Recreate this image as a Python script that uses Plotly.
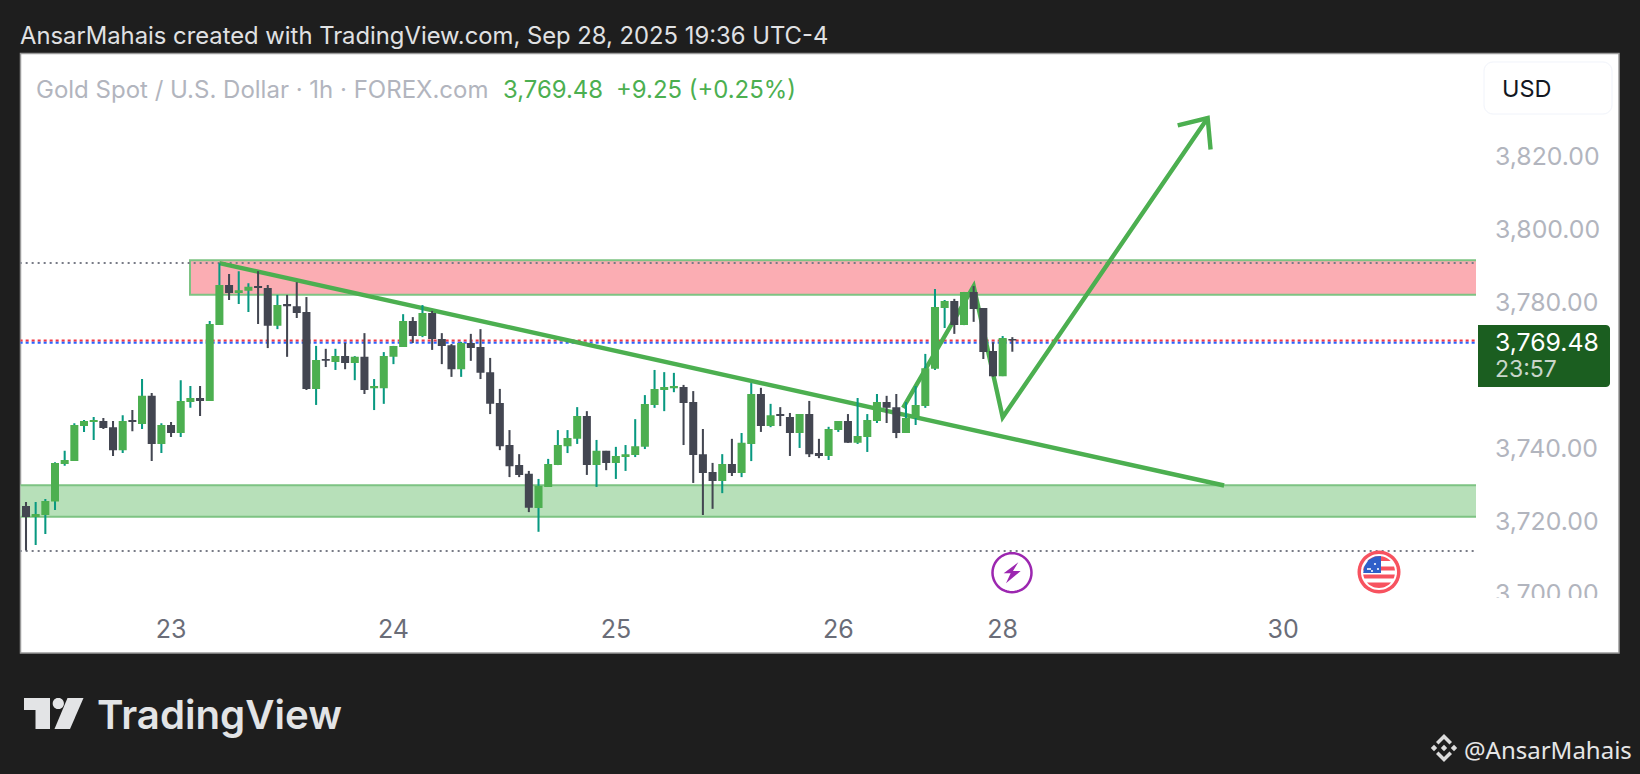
import math
import plotly.graph_objects as go

W, H = 1640, 774
FIG_H = 784

# ---------- data ----------
open_ = [3724.1,3721.05,3721.6,3725.3,3735.6,3736.4,3746.0,3747.1,3747.4,3745.7,3739.4,3747.7,3746.6,3754.3,3741.1,3746.3,3744.1,3752.6,3753.7,3752.9,
         3773.7,3784.7,3782.5,3783.1,3784.4,3783.9,3773.5,3779.5,3778.9,3777.3,3756.2,3764.4,3763.6,3765.2,3763.3,3765.0,3756.4,3756.4,3765.0,3767.7,
         3774.8,3770.7,3777.0,3769.9,3768.2,3761.6,3768.8,3767.7,3760.8,3752.3,3740.8,3735.3,3732.9,3723.5,3729.3,3735.3,3740.5,3742.5,3748.8,3735.3,
         3739.2,3735.9,3737.5,3738.1,3740.3,3751.8,3755.9,3756.4,3756.7,3752.6,3738.3,3733.4,3730.9,3735.6,3733.1,3741.1,3754.8,3746.0,3749.3,3748.5,
         3744.1,3749.3,3738.6,3737.8,3744.9,3747.4,3741.4,3743.0,3747.4,3752.6,3751.2,3744.1,3748.2,3751.5,3761.7,3778.4,3780.3,3773.7,3782.8,3778.4,
         3766.6,3759.7,3769.9]
high = [3725.2,3725.2,3726.0,3736.1,3739.2,3746.8,3747.7,3748.5,3748.2,3747.4,3749.0,3750.4,3758.9,3755.1,3746.8,3747.1,3758.6,3757.0,3757.0,3774.8,
        3790.7,3787.7,3788.5,3785.2,3788.5,3784.7,3782.0,3782.0,3785.5,3781.4,3768.0,3767.2,3767.2,3768.8,3765.2,3771.5,3758.9,3766.3,3768.0,3776.7,
        3775.9,3779.2,3777.6,3771.5,3768.5,3769.1,3771.3,3772.6,3764.7,3756.2,3744.9,3738.3,3733.7,3731.5,3737.0,3744.9,3744.9,3751.2,3750.1,3742.2,
        3739.2,3740.3,3740.8,3747.9,3754.5,3761.4,3760.8,3760.6,3757.3,3755.6,3745.2,3735.9,3738.3,3742.5,3744.1,3757.8,3756.5,3752.1,3751.2,3749.6,
        3749.3,3752.9,3742.5,3745.8,3747.4,3749.3,3753.7,3749.3,3754.8,3754.3,3754.8,3752.6,3757.0,3765.8,3783.6,3780.6,3780.9,3782.8,3784.4,3778.4,
        3769.0,3770.7,3770.4]
low = [3711.9,3713.4,3716.4,3723.0,3735.1,3736.4,3744.4,3742.2,3745.2,3737.8,3738.6,3744.6,3745.2,3736.4,3738.6,3743.0,3743.0,3751.0,3748.8,3752.9,
       3773.7,3780.6,3779.5,3777.3,3774.0,3767.4,3772.6,3765.0,3775.65,3755.9,3751.8,3762.2,3761.4,3761.6,3758.6,3754.8,3750.4,3752.1,3763.0,3767.7,
       3768.8,3770.4,3766.9,3763.0,3759.5,3759.5,3763.9,3758.9,3749.3,3739.4,3732.0,3732.0,3722.4,3717.0,3729.3,3735.3,3738.6,3741.1,3732.6,3729.3,
       3733.9,3731.5,3733.7,3737.5,3739.7,3751.0,3750.1,3755.3,3740.8,3730.4,3721.6,3723.3,3727.6,3732.3,3732.0,3736.4,3744.4,3745.7,3746.0,3737.8,
       3740.0,3737.5,3737.2,3736.7,3744.4,3741.4,3741.1,3738.9,3746.85,3746.85,3742.7,3744.1,3746.3,3751.0,3761.4,3772.9,3771.3,3773.7,3774.6,3764.4,
       3759.55,3759.7,3766.4]
close = [3721.05,3721.9,3725.45,3735.9,3736.7,3746.3,3747.4,3747.7,3745.5,3739.4,3747.4,3747.1,3754.3,3741.1,3746.3,3744.1,3752.9,3753.7,3752.9,3774.0,
         3784.7,3782.5,3783.3,3784.2,3783.9,3773.5,3779.2,3778.9,3777.0,3756.2,3764.1,3763.9,3765.2,3763.3,3765.0,3755.9,3757.0,3765.2,3768.0,3774.8,
         3770.7,3777.0,3769.9,3768.0,3761.6,3768.8,3767.4,3760.6,3752.1,3740.5,3735.0,3732.6,3723.6,3729.6,3735.6,3740.8,3742.7,3748.8,3735.3,3739.2,
         3735.9,3737.8,3738.3,3740.5,3752.05,3756.2,3756.7,3757.0,3752.3,3738.1,3733.1,3730.9,3735.6,3733.1,3741.4,3754.8,3746.0,3749.0,3748.8,3744.1,
         3749.3,3738.3,3737.8,3745.2,3747.4,3741.4,3743.3,3747.7,3752.6,3751.0,3744.1,3748.2,3751.8,3761.9,3778.7,3780.3,3773.7,3782.8,3778.1,3766.3,
         3759.7,3770.2,3769.48]
bar_index = list(range(len(close)))

price_ticks = [3700, 3720, 3740, 3780, 3800, 3820]
day_pos = [15, 38, 61, 84, 101, 130]
day_labels = ["23", "24", "25", "26", "28", "30"]

resistance_zone = (16.96, 3782.0, 3791.5)
support_zone = (-5, 3721.1, 3729.8)
trend_x = [20, 123.9]
trend_y = [3790.7, 3729.7]
wave_x = [90.7, 98, 101, 122.2]
wave_y = [3751.0, 3784.4, 3748.4, 3830.5]
head_x = [119.1, 122.2, 122.5]
head_y = [3828.5, 3830.5, 3821.9]
high_line = 3790.74
low_line = 3711.7
last_price = 3769.48
blue_line = 3768.9

# ---------- colours ----------
BG = "#1e1e1e"
UP = "#4caf50"
UPW = "#089981"
DN = "#434651"
GRN = "#4caf50"
EDGE = "#7dc383"
TXT = "#b2b5be"
FONT = "Inter"


def px(x):
    return x / W


def py(y):
    return 1 - y / H


def ppath(pts, close_=True):
    s = "M " + " L ".join(f"{px(a):.5f},{py(b):.5f}" for a, b in pts)
    return s + (" Z" if close_ else "")


def round_rect(x0, y0, x1, y1, rl, rr):
    pts = []
    for cx, cy, r, a0 in [(x1 - rr, y0 + rr, rr, -90), (x1 - rr, y1 - rr, rr, 0),
                          (x0 + rl, y1 - rl, rl, 90), (x0 + rl, y0 + rl, rl, 180)]:
        for k in range(7):
            t = math.radians(a0 + 15 * k)
            pts.append((cx + r * math.cos(t), cy + r * math.sin(t)))
    return ppath(pts)


def disc(cx, cy, r, n=48):
    return ppath([(cx + r * math.cos(2 * math.pi * k / n), cy + r * math.sin(2 * math.pi * k / n)) for k in range(n)])


def chord_band(cx, cy, r, y0, y1):
    """Horizontal band of a disc, between two pixel offsets."""
    pts = []
    n = 10
    for k in range(n + 1):
        yy = y0 + (y1 - y0) * k / n
        pts.append((cx + math.sqrt(max(r * r - yy * yy, 0)), cy + yy))
    for k in range(n + 1):
        yy = y1 - (y1 - y0) * k / n
        pts.append((cx - math.sqrt(max(r * r - yy * yy, 0)), cy + yy))
    return ppath(pts)


def paper_shape(path, fill, line=None, lw=0, layer="above"):
    return dict(type="path", xref="paper", yref="paper", path=path, fillcolor=fill,
                line=dict(color=line or fill, width=lw), layer=layer)


shapes = []
# panel
shapes.append(dict(type="rect", xref="paper", yref="paper", x0=px(20.5), x1=px(1619), y0=py(653), y1=py(53.5),
                   fillcolor="#ffffff", line=dict(color="#9a9a9a", width=1.5), layer="below"))
# zones
for (x0, lo, hi), fc in [(resistance_zone, "#fbadb3"), (support_zone, "#b7e0b9")]:
    shapes.append(dict(type="rect", xref="x", yref="y", x0=x0, x1=200, y0=lo, y1=hi, fillcolor=fc,
                       line=dict(color=EDGE, width=2), layer="below"))
# dotted price lines
for val, col, dash, lw in [(high_line, "#787b86", "2px,4px", 2), (low_line, "#787b86", "2px,4px", 2),
                           (blue_line, "#2962ff", "3px,3px", 2.2), (last_price, "#f23645", "3px,3px", 2.2)]:
    shapes.append(dict(type="line", xref="x", yref="y", x0=-5, x1=200, y0=val, y1=val,
                       line=dict(color=col, width=lw, dash=dash), layer="below"))
# drawings
for xs, ys in [(trend_x, trend_y), (wave_x, wave_y), (head_x, head_y)]:
    shapes.append(dict(type="path", xref="x", yref="y",
                       path="M " + " L ".join(f"{a},{b}" for a, b in zip(xs, ys)),
                       line=dict(color=GRN, width=4.4), layer="below"))

# clip of the lowest price label
shapes.append(dict(type="rect", xref="paper", yref="paper", x0=px(1480), x1=px(1617), y0=py(652), y1=py(598),
                   fillcolor="#ffffff", line=dict(width=0), layer="above"))
# USD box
shapes.append(paper_shape(round_rect(1484, 62, 1612, 114, 9, 9), "#ffffff", "#f0f3fa", 1))
# last price tag
shapes.append(paper_shape(round_rect(1478, 325, 1610, 387, 0, 4), "#1b5e20"))

# lightning icon
BC, BY, BR = 1012, 572.7, 19.5
shapes.append(paper_shape(disc(BC, BY, BR), "#ffffff", "#9c27b0", 2.5))
bolt = [(295, 157), (251, 190), (272, 190), (258, 220), (302, 183), (279, 183)]
shapes.append(paper_shape(ppath([(920 + a / 3, 510 + b / 3) for a, b in bolt]), "#9c27b0"))

# US flag icon
FC, FY = 1379, 572
shapes.append(paper_shape(disc(FC, FY, 21.5), "#f7525f"))
shapes.append(paper_shape(disc(FC, FY, 18), "#ffffff"))
shapes.append(paper_shape(disc(FC, FY, 16), "#ffffff"))
for a, b in [(-16, -11), (-5.5, -1.5), (2.5, 6.5), (10.5, 16)]:
    shapes.append(paper_shape(chord_band(FC, FY, 16, a, b), "#f7525f"))
canton = [(FC - 14.5, FY - 6), (FC - 10.5, FY - 12), (FC - 4, FY - 15.5), (FC + 2, FY - 16), (FC + 2, FY + 1), (FC - 15.8, FY + 1)]
shapes.append(paper_shape(ppath(canton), "#2f5fc9"))
for a, b in [(-9, -3), (-4, -8), (-1, -3), (-7, -1), (-11, -3)]:
    shapes.append(paper_shape(disc(FC + a, FY + b, 1.1, 8), "#ffffff"))

# TradingView mark
LOGO = "#e3e4e6"
shapes.append(paper_shape(ppath([(24, 698), (50, 698), (50, 729), (35.5, 729), (35.5, 710), (24, 710)]), LOGO))
shapes.append(paper_shape(disc(58.3, 703.5, 5.6), LOGO))
shapes.append(paper_shape(ppath([(67.5, 698), (83.5, 698), (70, 729), (54.5, 729)]), LOGO))

# Binance mark
MARKC, MARKY = 1444, 748
for a in (-10, 0, 10):
    r = 3.2
    shapes.append(paper_shape(ppath([(MARKC + a - r, MARKY), (MARKC + a, MARKY - r), (MARKC + a + r, MARKY), (MARKC + a, MARKY + r)]), "#dcdcdc"))
shapes.append(paper_shape(ppath([(MARKC, MARKY - 14), (MARKC + 8, MARKY - 6), (MARKC + 5.5, MARKY - 3.5), (MARKC, MARKY - 9), (MARKC - 5.5, MARKY - 3.5), (MARKC - 8, MARKY - 6)]), "#dcdcdc"))
shapes.append(paper_shape(ppath([(MARKC, MARKY + 14), (MARKC + 8, MARKY + 6), (MARKC + 5.5, MARKY + 3.5), (MARKC, MARKY + 9), (MARKC - 5.5, MARKY + 3.5), (MARKC - 8, MARKY + 6)]), "#dcdcdc"))


def note(x, y, text, color, size, weight=400, family=FONT):
    return dict(xref="paper", yref="paper", x=px(x), y=py(y), xanchor="left", yanchor="middle", text=text,
                showarrow=False, borderpad=0, font=dict(family=family, size=size, color=color, weight=weight))


annotations = [
    note(19, 35, "AnsarMahais created with TradingView.com, Sep 28, 2025 19:36 UTC-4", "#e0e1e3", 23.8),
    note(35, 90, "Gold Spot / U.S. Dollar · 1h · FOREX.com", TXT, 24),
    note(502, 90, "3,769.48", GRN, 23.9),
    note(615, 90, "+9.25 (+0.25%)", GRN, 23.9),
    note(1501, 88.5, "USD", "#131722", 23.5),
    note(1494, 342, "3,769.48", "#ffffff", 24.8),
    note(1494, 369, "23:57", "#c9d6ca", 23),
    note(96, 714, "TradingView", LOGO, 40.2, 600),
    note(1463, 749, "@AnsarMahais", "#e6e6e6", 24, 400, "Noto Sans"),
]

# ---------- traces ----------
fig = go.Figure()
fig.add_trace(go.Bar(
    x=bar_index,
    base=low,
    y=[h - l for h, l in zip(high, low)],
    width=0.21,
    marker=dict(color=[UPW if c >= o else DN for o, c in zip(open_, close)], line=dict(width=0)),
    hoverinfo="skip",
    showlegend=False,
))
fig.add_trace(go.Candlestick(
    x=bar_index,
    open=open_, high=high, low=low, close=close,
    increasing=dict(fillcolor=UP, line=dict(color=UP, width=0)),
    decreasing=dict(fillcolor=DN, line=dict(color=DN, width=0)),
    whiskerwidth=0,
    showlegend=False,
))

XL, XR = 20.5, 1476
YT, YB = 54, 598
PX_BAR = 9.67
PX_UNIT = 3.645
fig.update_layout(
    width=W, height=FIG_H,
    margin=dict(l=0, r=0, t=0, b=0),
    paper_bgcolor=BG,
    plot_bgcolor="#ffffff",
    showlegend=False,
    barmode="overlay",
    boxgap=0.17,
    boxgroupgap=0,
    shapes=shapes,
    annotations=annotations,
    xaxis=dict(
        domain=[px(XL), px(XR)],
        range=[(XL - 26) / PX_BAR, (XR - 26) / PX_BAR],
        tickmode="array", tickvals=day_pos, ticktext=day_labels,
        showgrid=False, zeroline=False, showline=False, ticks="",
        ticklabelstandoff=14,
        tickfont=dict(family=FONT, size=25, color="#6a6d78"),
        rangeslider=dict(visible=False),
        fixedrange=True,
    ),
    yaxis=dict(
        domain=[py(YB), py(YT)],
        range=[last_price - (YB - 340.5) / PX_UNIT, last_price + (340.5 - YT) / PX_UNIT],
        side="right",
        tickmode="array", tickvals=price_ticks, tickformat=",.2f",
        showgrid=False, zeroline=False, showline=False, ticks="",
        ticklabelstandoff=18,
        tickfont=dict(family=FONT, size=24.8, color=TXT),
        fixedrange=True,
    ),
)

fig.write_html(
    "out.html",
    config={"displayModeBar": False},
    post_script=(
        f"var s=document.createElement('style');"
        f"s.textContent='html,body{{margin:0;padding:0;overflow:hidden;background:{BG}}}"
        f" .plotly-graph-div{{display:block}}';document.head.appendChild(s);"
    ),
)
